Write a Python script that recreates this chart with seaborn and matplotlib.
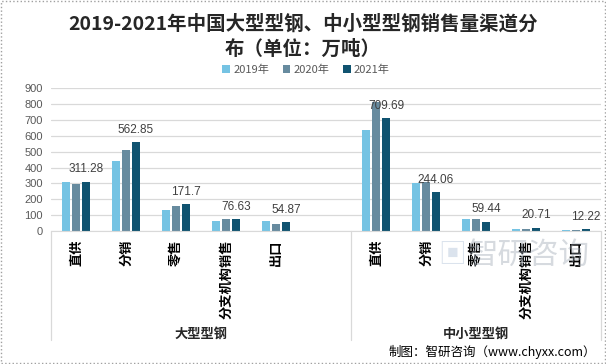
import pandas as pd
import numpy as np
import seaborn as sns
import matplotlib.pyplot as plt
from matplotlib.patches import Rectangle

# dati (2021 dalle etichette, il resto stimato)
groups = ['大型型钢', '中小型型钢']
channels = ['直供', '分销', '零售', '分支机构销售', '出口']
years = ['2019年', '2020年', '2021年']
large_2019 = [307, 441, 132, 63, 63]
large_2020 = [294, 510, 157, 75, 44]
large_2021 = [311.28, 562.85, 171.7, 76.63, 54.87]
small_2019 = [636, 300, 76, 13, 8]
small_2020 = [815, 307, 76, 13, 8]
small_2021 = [709.69, 244.06, 59.44, 20.71, 12.22]
colors = ['#63cbf5', '#5e8ea8', '#005a80']

rows = []
series = {'大型型钢': [large_2019, large_2020, large_2021],
          '中小型型钢': [small_2019, small_2020, small_2021]}
for g in groups:
    for y, vals in zip(years, series[g]):
        for c, v in zip(channels, vals):
            rows.append({'key': g + '|' + c, 'year': y, 'value': v})
df = pd.DataFrame(rows)

# slot vuoto alla fine del primo gruppo, come nell'originale
order = [groups[0] + '|' + c for c in channels] + ['vuoto'] + [groups[1] + '|' + c for c in channels]
tick_labels = channels + [''] + channels

sns.set_style('white')
plt.rcParams['font.family'] = ['Noto Sans CJK SC', 'DejaVu Sans']

fig = plt.figure(figsize=(6.06, 3.64), dpi=100)
ax = fig.add_axes([51 / 606, (364 - 231) / 364, 550 / 606, 142.7 / 364])

sns.barplot(data=df, x='key', y='value', hue='year', order=order, hue_order=years,
            palette=colors, width=0.6, gap=0.15, linewidth=0, ax=ax)

ax.set_xlim(-0.5, len(order) - 0.5)
ax.set_ylim(0, 900)
ax.set_yticks(np.arange(0, 901, 100))
ax.grid(axis='y', color='#d9d9d9', linewidth=0.9)
ax.set_axisbelow(True)
for s in ['left', 'right', 'top']:
    ax.spines[s].set_visible(False)
ax.spines['bottom'].set_color('#d9d9d9')
ax.set_xlabel('')
ax.set_ylabel('')
ax.tick_params(axis='y', length=0, labelsize=8, labelcolor='#595959', pad=6)
ax.tick_params(axis='x', length=0, pad=6)
ax.set_xticks(range(len(order)))
ax.set_xticklabels(tick_labels, rotation=90, va='top', ha='center',
                   fontsize=9.5, fontweight='bold', color='black')
for t in ax.get_yticklabels():
    t.set_fontfamily(['Liberation Sans', 'DejaVu Sans'])

# etichette dei valori 2021
ax.bar_label(ax.containers[2], labels=[f'{v:g}' for v in large_2021 + small_2021],
             padding=4.5, fontsize=8.5, color='#404040', family=['Liberation Sans', 'DejaVu Sans'])

# linee di separazione delle categorie
trans = ax.get_xaxis_transform()
for xv in [-0.5, 5.5, 10.5]:
    ax.plot([xv, xv], [0, -0.765], transform=trans, color='#d9d9d9', linewidth=0.9, clip_on=False)
ax.text(2.5, -0.72, groups[0], transform=trans, ha='center', va='center',
        fontsize=9.5, fontweight='bold')
ax.text(8.0, -0.72, groups[1], transform=trans, ha='center', va='center',
        fontsize=9.5, fontweight='bold')

handles, labels = ax.get_legend_handles_labels()
if ax.legend_:
    ax.legend_.remove()
fig.legend(handles, labels, loc='center', bbox_to_anchor=(0.505, 1 - 70 / 364), ncol=3,
           frameon=False, fontsize=8, handlelength=0.7, handleheight=0.7,
           handletextpad=0.3, columnspacing=1.2, labelcolor='#595959')

fig.text(0.5, 1 - 24 / 364, '2019-2021年中国大型型钢、中小型型钢销售量渠道分',
         ha='center', va='center', fontsize=14, fontweight='bold')
fig.text(0.5, 1 - 49 / 364, '布（单位：万吨）', ha='center', va='center',
         fontsize=14, fontweight='bold')

# filigrana e fonte
fig.text(468 / 606, 1 - 255 / 364, '智研咨询', ha='left', va='center', fontsize=22,
         color='#9aa4b0', alpha=0.4, zorder=0)
fig.text(438 / 606, 1 - 255 / 364, '▣', ha='left', va='center', fontsize=20,
         color='#9ab0cc', alpha=0.35, zorder=0)
fig.text(1 - 10 / 606, 1 - 352 / 364, '制图：智研咨询（www.chyxx.com）', ha='right', va='center',
         fontsize=9, color='black')

fig.patches.append(Rectangle((0.001, 0.002), 0.997, 0.996, transform=fig.transFigure,
                             fill=False, edgecolor='#a0a0a0', linestyle=':', linewidth=1))

fig.savefig('out.png', dpi=100)
